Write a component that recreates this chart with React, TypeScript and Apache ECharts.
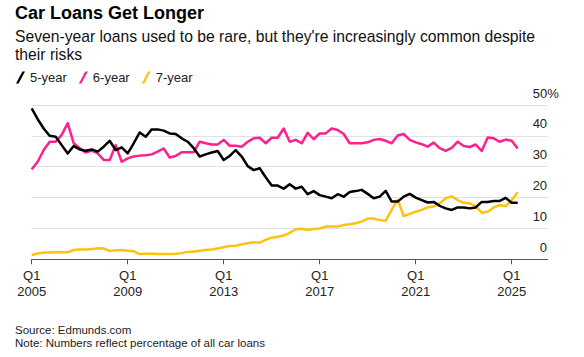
import React, { useEffect, useRef } from "react";
import * as echarts from "echarts";

// Share of car loans by term (%), quarterly from Q1 2005 to Q2 2025
const fiveYear = [
  48.9, 45.4, 42.4, 40.0, 39.7, 37.0, 34.3, 36.7, 35.6, 35.2, 35.6, 34.9, 36.5, 38.4, 35.4, 36.3,
  34.3, 37.6, 41.1, 39.7, 42.1, 42.1, 41.7, 40.8, 40.6, 39.2, 38.1, 36.0, 33.3, 34.0, 34.6, 35.1,
  32.2, 33.5, 35.4, 33.3, 30.2, 28.9, 29.5, 26.6, 23.9, 23.9, 22.9, 24.3, 22.9, 23.5, 21.1, 22.1,
  20.8, 20.3, 19.8, 21.1, 20.3, 21.8, 22.1, 22.5, 21.2, 19.8, 20.3, 22.2, 18.7, 18.7, 20.3, 21.2,
  20.0, 19.2, 18.4, 18.6, 17.3, 16.5, 16.0, 16.8, 16.8, 16.5, 16.8, 18.6, 18.6, 18.9, 18.9, 19.9,
  18.3, 18.3,
];
const sixYear = [
  29.2, 31.6, 35.4, 38.1, 38.1, 40.3, 44.1, 37.6, 36.0, 34.6, 35.2, 34.3, 32.2, 32.2, 37.0, 31.6,
  32.7, 33.3, 33.6, 33.7, 34.0, 34.9, 35.9, 33.0, 33.5, 34.7, 34.7, 34.7, 38.1, 37.6, 37.2, 37.2,
  38.7, 36.8, 36.8, 36.5, 38.1, 39.2, 39.4, 37.6, 39.4, 39.4, 42.4, 38.1, 38.7, 37.6, 41.0, 38.9,
  40.8, 40.8, 42.4, 41.9, 40.6, 37.6, 37.6, 37.6, 37.9, 38.7, 39.0, 38.4, 37.6, 40.1, 40.6, 38.7,
  37.9, 37.3, 36.5, 37.8, 36.0, 35.1, 36.1, 38.1, 36.7, 36.4, 37.2, 35.1, 39.5, 39.2, 38.1, 38.8,
  38.4, 35.9,
];
const sevenYear = [
  1.4, 1.9, 2.2, 2.2, 2.3, 2.3, 2.3, 3.0, 3.2, 3.2, 3.3, 3.6, 3.5, 2.7, 2.9, 3.0,
  2.8, 2.6, 1.7, 1.8, 1.8, 1.7, 1.7, 1.7, 1.8, 2.0, 2.4, 2.5, 2.8, 3.0, 3.2, 3.5,
  3.9, 4.3, 4.4, 4.9, 5.2, 5.5, 5.4, 6.3, 7.0, 7.3, 7.7, 8.6, 9.7, 9.9, 9.5, 9.8,
  10.0, 10.6, 10.6, 10.6, 11.1, 11.4, 11.7, 12.2, 13.2, 13.2, 12.7, 12.5, 16.0, 19.3, 14.0, 14.7,
  15.4, 16.0, 16.8, 17.1, 18.1, 19.8, 20.4, 19.2, 18.3, 18.1, 17.2, 15.1, 15.4, 16.8, 17.6, 17.2,
  19.2, 21.7,
];

const seriesNames = ["5-year", "6-year", "7-year"];
const seriesColors = ["#000000", "#ff1f8e", "#ffc20e"];
const yTicks = [0, 10, 20, 30, 40, 50];

// Category axis: Q1 2005 .. Q3 2026 (axis runs a little past the last data point)
const startYear = 2005;
const quarterCount = 87;
const quarters: string[] = [];
for (let i = 0; i < quarterCount; i++) {
  quarters.push(`Q${(i % 4) + 1} ${startYear + Math.floor(i / 4)}`);
}

const FONT = "'Liberation Sans', Arial, Helvetica, sans-serif";
const slash = "path://M0,12 L2.6,12 L9,0 L6.4,0 Z";

export default function App() {
  const ref = useRef<HTMLDivElement>(null);

  useEffect(() => {
    if (!ref.current) return;
    const chart = echarts.init(ref.current, null, { renderer: "svg" });
    const lineSeries = (idx: number, data: number[]) => ({
      name: seriesNames[idx],
      type: "line",
      data,
      showSymbol: false,
      symbol: "none",
      lineStyle: { color: seriesColors[idx], width: 2.5, join: "round" },
      itemStyle: { color: seriesColors[idx] },
      emphasis: { disabled: true },
    });
    chart.setOption({
      animation: false,
      textStyle: { fontFamily: FONT },
      title: [
        {
          text: "Car Loans Get Longer",
          left: 15,
          top: 4,
          padding: 0,
          textStyle: { fontSize: 18, fontWeight: "bold", color: "#000", fontFamily: FONT, lineHeight: 18 },
        },
        {
          text: "Seven-year loans used to be rare, but they're increasingly common despite\ntheir risks",
          left: 15,
          top: 27,
          padding: 0,
          textStyle: { fontSize: 15.7, fontWeight: "normal", color: "#111", fontFamily: FONT, lineHeight: 18.3 },
        },
        {
          text: "Source: Edmunds.com\nNote: Numbers reflect percentage of all car loans",
          left: 15,
          top: 323,
          padding: 0,
          textStyle: { fontSize: 11.5, fontWeight: "normal", color: "#222", fontFamily: FONT, lineHeight: 13.5 },
        },
      ],
      legend: {
        data: seriesNames.map((n) => ({ name: n, icon: slash })),
        left: 16,
        top: 71,
        padding: 0,
        itemWidth: 9,
        itemHeight: 12,
        itemGap: 12,
        selectedMode: false,
        textStyle: { fontSize: 13, color: "#222", fontFamily: FONT },
      },
      grid: { left: 31.7, right: 36.3, top: 105, bottom: 97.7, containLabel: false },
      xAxis: {
        type: "category",
        data: quarters,
        boundaryGap: false,
        axisLine: { show: true, lineStyle: { color: "#555", width: 1 } },
        axisTick: { show: true, interval: 15, length: 5, lineStyle: { color: "#555" } },
        axisLabel: {
          interval: 15,
          margin: 8,
          fontSize: 13,
          lineHeight: 16,
          color: "#222",
          fontFamily: FONT,
          formatter: (v: string) => v.replace(" ", "\n"),
        },
        splitLine: { show: false },
      },
      yAxis: {
        type: "value",
        position: "right",
        min: yTicks[0],
        max: yTicks[yTicks.length - 1],
        interval: 10,
        axisLine: { show: false },
        axisTick: { show: false },
        splitLine: { show: true, lineStyle: { color: "#e2e2e2", width: 1 } },
        axisLabel: {
          inside: true,
          align: "right",
          verticalAlign: "bottom",
          margin: -11,
          fontSize: 13,
          color: "#222",
          fontFamily: FONT,
          formatter: (v: number) => (v === 50 ? `{b|${v}%}` : `{a|${v}}`),
          rich: {
            a: { fontSize: 13, color: "#222", fontFamily: FONT, lineHeight: 24, padding: [0, 11.6, 0, 0] },
            b: { fontSize: 13, color: "#222", fontFamily: FONT, lineHeight: 24 },
          },
        },
      },
      series: [lineSeries(2, sevenYear), lineSeries(1, sixYear), lineSeries(0, fiveYear)],
    });
    return () => chart.dispose();
  }, []);

  return (
    <div
      ref={ref}
      style={{ position: "absolute", left: 0, top: 0, width: 584, height: 357 }}
    />
  );
}
